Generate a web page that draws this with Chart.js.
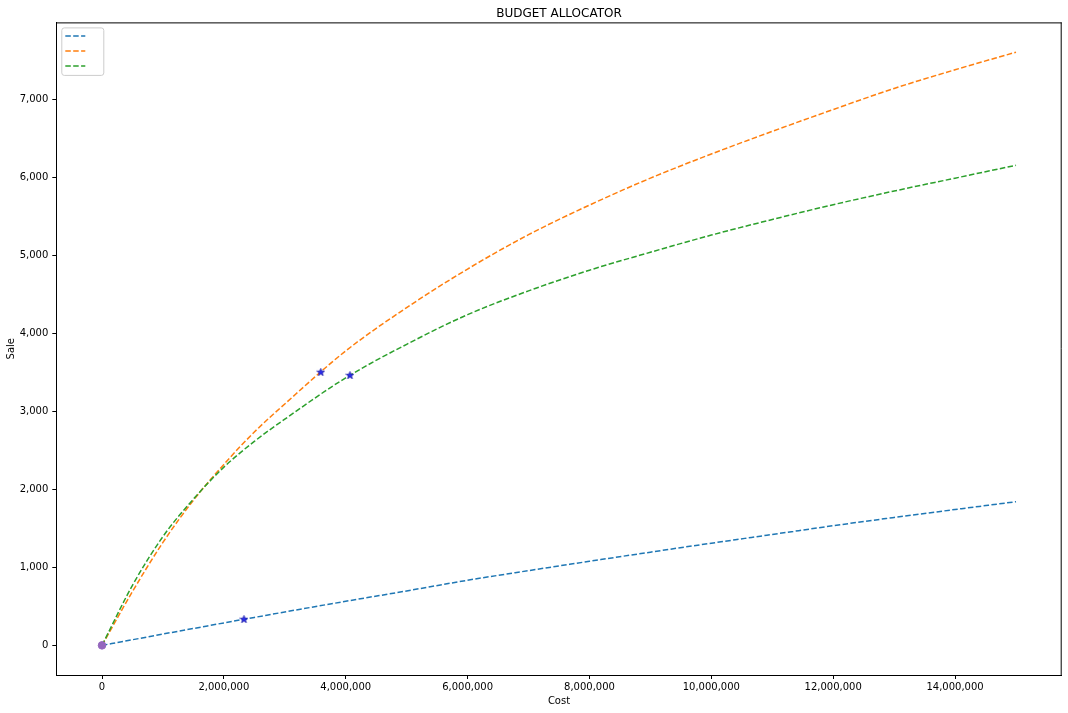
<!DOCTYPE html>
<html>
<head>
<meta charset="utf-8">
<title>Budget Allocator</title>
<script src="https://cdn.jsdelivr.net/npm/chart.js@4.4.1/dist/chart.umd.min.js"></script>
<style>
  html, body { margin: 0; padding: 0; background: #fff; }
  canvas { display: block; }
</style>
</head>
<body>
<canvas id="budgetChart" width="1068" height="713"></canvas>
<script>
// ── Data ──────────────────────────────────────────────────────
const costSteps = [0, 500000, 1000000, 1500000, 2000000, 2500000, 3000000, 4000000, 5000000,
  6000000, 7000000, 8000000, 9000000, 10000000, 11000000, 12000000, 13000000, 14000000, 15000000];
const blueSales   = [0, 72, 145, 216, 288, 358, 428, 565, 698, 835, 958, 1078, 1195, 1310, 1422, 1534, 1640, 1742, 1842];
const orangeSales = [0, 690, 1320, 1860, 2320, 2735, 3095, 3775, 4330, 4825, 5265, 5645, 5990, 6300, 6590, 6870, 7140, 7380, 7605];
const greenSales  = [0, 770, 1395, 1875, 2285, 2615, 2900, 3430, 3860, 4240, 4545, 4810, 5040, 5260, 5460, 5650, 5825, 5990, 6155];

// optimum spend per channel (stars) and the origin marker
const optCost = [2330000, 3590000, 4070000];
const optSale = [333, 3500, 3460];
const originCost = [0];
const originSale = [0];

const xTicks = [0, 2000000, 4000000, 6000000, 8000000, 10000000, 12000000, 14000000];
const yTicks = [0, 1000, 2000, 3000, 4000, 5000, 6000, 7000];

const FONT = "'DejaVu Sans', sans-serif";
const DASH = [5.5, 2.4];

// ── Helpers ──────────────────────────────────────────────────
const toPoints = (xs, ys) => xs.map((x, i) => ({ x, y: ys[i] }));
const fmt = v => Number(v).toLocaleString("en-US");

// filled five-point star, like matplotlib's '*' marker
function makeStar(size, fill) {
  const c = document.createElement("canvas");
  c.width = size; c.height = size;
  const g = c.getContext("2d");
  const cx = size / 2, cy = size / 2, outer = size / 2 - 0.5, inner = outer * 0.4;
  g.beginPath();
  for (let i = 0; i < 10; i++) {
    const r = i % 2 === 0 ? outer : inner;
    const a = -Math.PI / 2 + i * Math.PI / 5;
    g.lineTo(cx + r * Math.cos(a), cy + r * Math.sin(a));
  }
  g.closePath();
  g.fillStyle = fill;
  g.fill();
  g.strokeStyle = "#1a1aa8";
  g.lineWidth = 0.8;
  g.stroke();
  return c;
}

function lineSet(data, color, order) {
  return {
    label: "",
    data,
    showLine: true,
    borderColor: color,
    backgroundColor: color,
    borderWidth: 1.5,
    borderDash: DASH,
    pointRadius: 0,
    cubicInterpolationMode: "monotone",
    fill: false,
    order
  };
}

/* ── Frame + legend plugin (matplotlib look) ─────────────────*/
const framePlugin = {
  id: "frame",
  afterDraw(chart) {
    const { ctx, chartArea: a } = chart;
    ctx.save();
    // top and right spines
    ctx.strokeStyle = "#000";
    ctx.lineWidth = 1;
    ctx.beginPath();
    ctx.moveTo(a.left, a.top + 0.5);
    ctx.lineTo(a.right, a.top + 0.5);
    ctx.moveTo(a.right - 0.5, a.top);
    ctx.lineTo(a.right - 0.5, a.bottom);
    ctx.stroke();

    // legend box with empty labels
    const bx = a.left + 5.5, by = a.top + 5.5, bw = 42, bh = 47.5;
    ctx.fillStyle = "rgba(255,255,255,0.8)";
    ctx.strokeStyle = "#cccccc";
    ctx.beginPath();
    ctx.roundRect(bx, by, bw, bh, 2.5);
    ctx.fill();
    ctx.stroke();
    const lines = chart.data.datasets.filter(d => d.showLine);
    lines.forEach((d, i) => {
      const y = by + 8 + i * 15;
      ctx.strokeStyle = d.borderColor;
      ctx.lineWidth = 1.5;
      ctx.setLineDash(DASH);
      ctx.beginPath();
      ctx.moveTo(bx + 3.5, y);
      ctx.lineTo(bx + 23.5, y);
      ctx.stroke();
    });
    ctx.restore();
  }
};

/* ── Chart ──────────────────────────────────────────────────*/
const axisTick = { size: 10, family: FONT };

new Chart(document.getElementById("budgetChart"), {
  type: "scatter",
  data: {
    datasets: [
      {
        label: "optimum",
        data: toPoints(optCost, optSale),
        pointStyle: makeStar(9, "#2b2bf0"),
        pointRadius: 4.5,
        order: 0
      },
      {
        label: "origin",
        data: toPoints(originCost, originSale),
        backgroundColor: "#9467bd",
        borderColor: "#9467bd",
        pointRadius: 3.8,
        order: 0
      },
      lineSet(toPoints(costSteps, blueSales), "#1f77b4", 3),
      lineSet(toPoints(costSteps, orangeSales), "#ff7f0e", 2),
      lineSet(toPoints(costSteps, greenSales), "#2ca02c", 1)
    ]
  },
  options: {
    responsive: false,
    animation: false,
    devicePixelRatio: 1,
    layout: { padding: { left: 0, right: 6.3, top: 0, bottom: 0 } },
    scales: {
      x: {
        type: "linear",
        min: -750000,
        max: 15750000,
        afterBuildTicks: s => { s.ticks = xTicks.map(v => ({ value: v })); },
        afterFit: s => { s.height = 38; },
        ticks: { color: "#000", font: axisTick, padding: 2, maxRotation: 0, callback: v => fmt(v) },
        grid: { display: true, drawOnChartArea: false, drawTicks: true, tickLength: 4, tickColor: "#000" },
        border: { display: true, color: "#000", width: 1 },
        title: { display: true, text: "Cost", color: "#000", font: { size: 10, family: FONT }, padding: { top: 0, bottom: 6 } }
      },
      y: {
        type: "linear",
        min: -380,
        max: 7987,
        afterBuildTicks: s => { s.ticks = yTicks.map(v => ({ value: v })); },
        afterFit: s => { s.width = 56.3; },
        ticks: { color: "#000", font: axisTick, padding: 4, callback: v => fmt(v) },
        grid: { display: true, drawOnChartArea: false, drawTicks: true, tickLength: 4, tickColor: "#000" },
        border: { display: true, color: "#000", width: 1 },
        title: { display: true, text: "Sale", color: "#000", font: { size: 10, family: FONT }, padding: { top: 5, bottom: 0 } }
      }
    },
    plugins: {
      legend: { display: false },
      tooltip: { enabled: false },
      title: {
        display: true,
        text: "BUDGET ALLOCATOR",
        color: "#000",
        fullSize: false,
        font: { size: 12, family: FONT, weight: "normal" },
        padding: { top: 6.5, bottom: 1.5 }
      }
    }
  },
  plugins: [framePlugin]
});
</script>
</body>
</html>
